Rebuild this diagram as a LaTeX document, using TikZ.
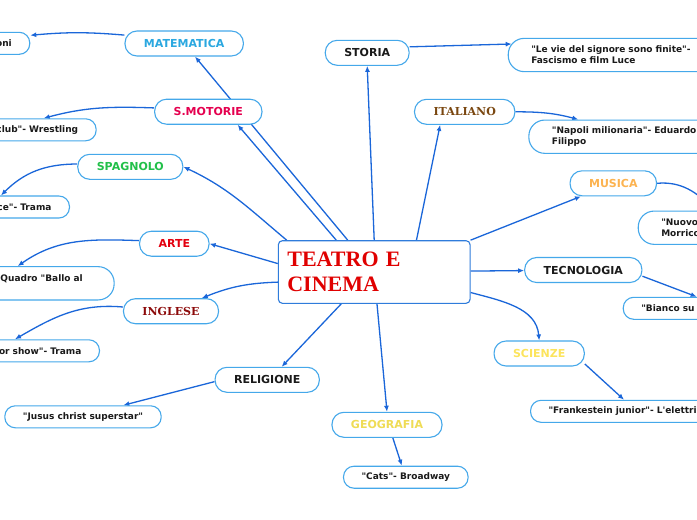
\documentclass[tikz,border=0pt]{standalone}
\usepackage{fontspec}
\usepackage{tikz}
\usetikzlibrary{arrows.meta}
\newfontfamily\nodofont[Ligatures=TeXOff]{DejaVu Sans}
\newfontfamily\nodoserif[Ligatures=TeXOff]{DejaVu Serif}
\newfontfamily\centrofont{Liberation Serif}
\definecolor{linea}{HTML}{1A66D9}
\definecolor{bordo}{HTML}{45A8EA}
\definecolor{bordocentro}{HTML}{2F7CDB}
\definecolor{rossocentro}{HTML}{E00000}
\definecolor{testo}{HTML}{1A1A1A}
\definecolor{cmate}{HTML}{2BA8E0}
\definecolor{cmotorie}{HTML}{E5004F}
\definecolor{cspagnolo}{HTML}{22C04A}
\definecolor{carte}{HTML}{E3000F}
\definecolor{cinglese}{HTML}{8C0A0A}
\definecolor{cgeografia}{HTML}{EFDC55}
\definecolor{cscienze}{HTML}{FCE45C}
\definecolor{cmusica}{HTML}{FCB350}
\definecolor{citaliano}{HTML}{7A4710}
\pgfdeclarelayer{sfondo}
\pgfsetlayers{sfondo,main}

\begin{document}
\begin{tikzpicture}[x=1pt, y=1pt,
        nodo/.style={draw=bordo, line width=1.1pt, fill=white, inner ysep=0pt, text=testo,
            font=\nodofont\bfseries\fontsize{9}{11}\selectfont},
        argomento/.style={nodo, rounded corners=12pt, minimum height=25pt, inner xsep=19pt,
            font=\nodofont\bfseries\fontsize{11}{13}\selectfont},
        foglia/.style={nodo, rounded corners=10.5pt, minimum height=22pt, inner xsep=18pt},
        foglia2/.style={foglia, rounded corners=16pt, minimum height=33.3pt, inner xsep=23pt, align=left},
        centro/.style={draw=bordocentro, line width=1.1pt, fill=white, rounded corners=4pt,
            minimum width=191.7pt, minimum height=62.6pt, text width=173.7pt, inner xsep=9pt,
            align=left, text=rossocentro, font=\centrofont\bfseries\fontsize{22}{24.6}\selectfont},
        freccia/.style={-{Latex[length=6pt,width=5pt]}, draw=linea, line width=1.3pt}
        ]
        \useasboundingbox (0,0) rectangle (697,-520);

        % Nodo centrale
        \node[centro] (teatro) at (374.2,-272) {TEATRO E\\CINEMA};

        % Argomenti
        \node[argomento, text=cmate] (mate) at (184.2,-43.5) {MATEMATICA};
        \node[argomento, text=cmotorie] (motorie) at (208.3,-111.7) {S.MOTORIE};
        \node[argomento, text=cspagnolo] (spagnolo) at (130.3,-166.8) {SPAGNOLO};
        \node[argomento, text=carte] (arte) at (174.3,-243.7) {ARTE};
        \node[argomento, text=cinglese, font=\nodoserif\bfseries\fontsize{11}{13}\selectfont] (inglese) at (171,-311.2) {INGLESE};
        \node[argomento] (religione) at (267.2,-379.8) {RELIGIONE};
        \node[argomento, text=cgeografia] (geografia) at (387,-424.8) {GEOGRAFIA};
        \node[argomento, text=cscienze] (scienze) at (539.2,-353.5) {SCIENZE};
        \node[argomento] (tecnologia) at (583.3,-270) {TECNOLOGIA};
        \node[argomento, text=cmusica] (musica) at (613.3,-183.3) {MUSICA};
        \node[argomento] (storia) at (367.2,-52.8) {STORIA};
        \node[argomento, text=citaliano, font=\nodoserif\bfseries\fontsize{11}{13}\selectfont] (italiano) at (464.7,-111.8) {ITALIANO};

        % Foglie a sinistra
        \node[foglia, anchor=east, text width=100pt, align=right] (oni) at (30.3,-43.3) {oni};
        \node[foglia, anchor=east, text width=100pt, align=right] (club) at (96.7,-129.8) {club"- Wrestling};
        \node[foglia, anchor=east, text width=100pt, align=right] (ce) at (70,-207) {ce"- Trama};
        \node[foglia2, anchor=east, text width=90.7pt] (quadro) at (114.7,-283.3) {Quadro "Ballo al\\\mbox{}};
        \node[foglia, anchor=east, text width=100pt, align=right] (orshow) at (100,-350.8) {or show"- Trama};
        \node[foglia] (jusus) at (83,-416.8) {"Jusus christ superstar"};
        \node[foglia] (cats) at (405.8,-477.2) {"Cats"- Broadway};

        % Foglie a destra
        \node[foglia, anchor=west, text width=200pt, align=left] (franken) at (530,-411.3) {"Frankestein junior"- L'elettri};
        \node[foglia, anchor=west, text width=200pt, align=left] (bianco) at (622.7,-308.3) {"Bianco su};
        \node[foglia2, anchor=west, text width=200pt] (nuovo) at (637.7,-227.7) {"Nuovo\\Morrico};
        \node[foglia2, anchor=west, text width=200pt] (vie) at (507.7,-55) {"Le vie del signore sono finite"-\\Fascismo e film Luce};
        \node[foglia2, anchor=west, text width=200pt] (napoli) at (528.3,-136.7) {"Napoli milionaria"- Eduardo\\Filippo};

        % Collegamenti
        \begin{pgfonlayer}{sfondo}
        \fill[white] (0,0) rectangle (697,-520);
        \draw[freccia] (teatro) -- (mate);
        \draw[freccia] (teatro.140) -- (motorie.336);
        \draw[freccia] (teatro.160) to[out=140, in=-25] (spagnolo.east);
        \draw[freccia] (teatro.175) -- (arte.east);
        \draw[freccia] (teatro.186) to[bend right=10] (inglese.23);
        \draw[freccia] (teatro.224) -- (religione.42);
        \draw[freccia] (teatro.275) -- (geografia.north);
        \draw[freccia] (teatro.348) to[out=-15, in=95] (scienze.north);
        \draw[freccia] (teatro) -- (tecnologia);
        \draw[freccia] (teatro.north east) -- (musica.202);
        \draw[freccia] (teatro.37) -- (italiano.208);
        \draw[freccia] (teatro.north) -- (storia.south);

        \draw[freccia] (storia.8) -- ([xshift=4pt, yshift=11pt]vie.west);
        \draw[freccia] (italiano.east) to[out=0, in=165] ([xshift=50pt]napoli.north west);
        \draw[freccia] (mate.172) to[bend right=5] ([yshift=8pt]oni.east);
        \draw[freccia] (motorie.176) to[out=178, in=15] ([xshift=-53pt]club.north east);
        \draw[freccia] (spagnolo.177) to[out=180, in=45] ([xshift=-69pt]ce.north east);
        \draw[freccia] (arte.175) to[out=178, in=35] ([xshift=-97pt]quadro.north east);
        \draw[freccia] (inglese.175) to[out=175, in=30] ([xshift=-85pt]orshow.north east);
        \draw[freccia] (religione.182) -- (jusus.16);
        \draw[freccia] (geografia.294) -- (cats.109);
        \draw[freccia] (scienze.347) -- ([xshift=94pt]franken.north west);
        \draw[freccia] (tecnologia.354) -- ([xshift=74pt]bianco.north west);
        \draw[freccia] (musica.east) to[out=5, in=135] ([xshift=77pt]nuovo.north west);
        \end{pgfonlayer}
\end{tikzpicture}
\end{document}
